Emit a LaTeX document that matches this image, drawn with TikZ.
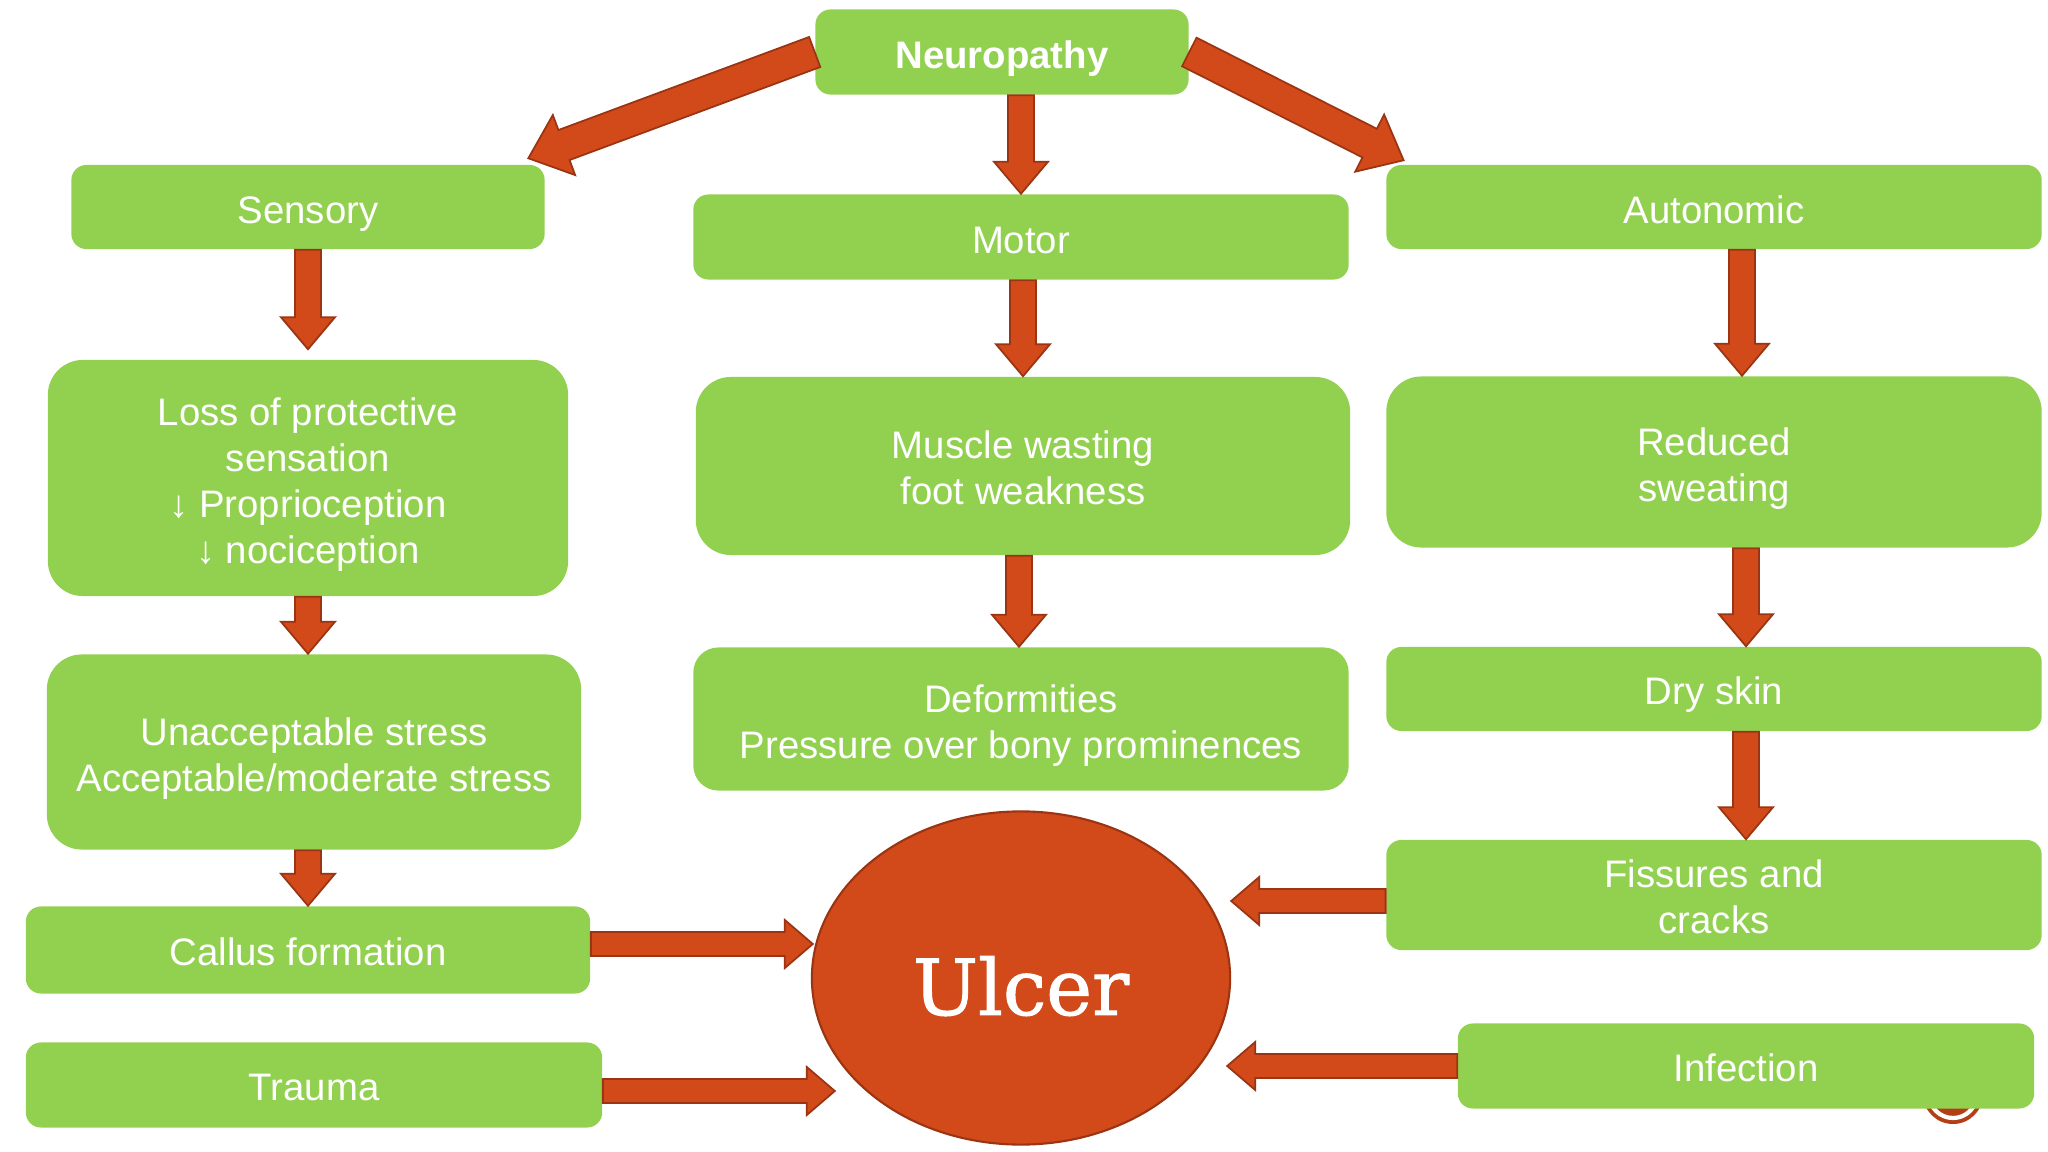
\documentclass[tikz,border=0pt]{standalone}
\usepackage{fontspec}
\setmainfont{Liberation Sans}
\newfontfamily\ulcerfont[FakeBold=1.3]{DejaVu Serif}
\usetikzlibrary{calc,shapes.geometric}
\definecolor{boxgreen}{HTML}{92D050}
\definecolor{arrred}{HTML}{D24A1A}
\definecolor{arredge}{HTML}{9A3412}
\tikzset{
  gbox/.style={fill=boxgreen, text=white, rounded corners=0.15cm, inner sep=0pt,
    align=center, font=\fontsize{10.9}{13.1}\selectfont},
  bigbox/.style={gbox, rounded corners=0.35cm},
  arrstyle/.style={fill=arrred, draw=arredge, line width=0.5pt, line join=miter},
}
% lowered text block: amount, lines
\newcommand\tl[2]{\raisebox{-#1}[\height][\depth]{\begin{tabular}{@{}c@{}}#2\end{tabular}}}
% block arrow: start, end, shaft half width, head half width, head length
\newcommand\blockarr[5]{%
  \coordinate (ba s) at #1;
  \coordinate (ba e) at #2;
  \coordinate (ba n) at ($(ba e)!#5!(ba s)$);
  \filldraw[arrstyle] ($(ba s)!#3!90:(ba e)$) -- ($(ba n)!#3!90:(ba e)$)
    -- ($(ba n)!#4!90:(ba e)$) -- (ba e) -- ($(ba n)!#4!-90:(ba e)$)
    -- ($(ba n)!#3!-90:(ba e)$) -- ($(ba s)!#3!-90:(ba e)$) -- cycle;}
\newcommand\varr[2]{\blockarr{#1}{#2}{0.13cm}{0.27cm}{0.32cm}}
\newcommand\harr[2]{\blockarr{#1}{#2}{0.12cm}{0.24cm}{0.28cm}}
\newcommand\darr[2]{\blockarr{#1}{#2}{0.16cm}{0.32cm}{0.38cm}}
\begin{document}
\begin{tikzpicture}[x=0.01cm, y=-0.01cm]
\fill[white] (0,0) rectangle (2048,1152);
\useasboundingbox (0,0) rectangle (2048,1152);

% decorative partial ring behind Infection
\fill[arrred!85!black] (1953,1094) circle (0.3cm);
\draw[white, line width=1.2pt] (1953,1094) circle (0.24cm);

% boxes
\node[gbox, minimum width=3.73cm, minimum height=0.85cm, font=\fontsize{10.9}{13.1}\selectfont\bfseries] (neuro) at (1002,52) {\tl{2.1pt}{Neuropathy}};
\node[gbox, minimum width=4.73cm, minimum height=0.84cm] (sensory) at (308,207) {\tl{2.1pt}{Sensory}};
\node[gbox, minimum width=6.55cm, minimum height=0.85cm] (motor) at (1021,237) {\tl{2.1pt}{Motor}};
\node[gbox, minimum width=6.55cm, minimum height=0.84cm] (autonomic) at (1714,207) {\tl{2.1pt}{Autonomic}};
\node[bigbox, minimum width=5.20cm, minimum height=2.36cm] (loss) at (308,478) {\tl{2.1pt}{Loss of protective\\ sensation\\ ↓ Proprioception\\ ↓ nociception}};
\node[bigbox, minimum width=6.54cm, minimum height=1.78cm] (muscle) at (1023,466) {\tl{1.9pt}{Muscle wasting\\ foot weakness}};
\node[bigbox, minimum width=6.55cm, minimum height=1.71cm] (reduced) at (1714,462) {\tl{2.1pt}{Reduced\\ sweating}};
\node[bigbox, minimum width=5.34cm, minimum height=1.95cm] (unacc) at (314,752) {\tl{2.1pt}{Unacceptable stress\\ Acceptable/moderate stress}};
\node[gbox, rounded corners=0.25cm, minimum width=6.55cm, minimum height=1.43cm] (deform) at (1021,719) {\tl{2.1pt}{Deformities\\ Pressure over bony prominences}};
\node[gbox, minimum width=6.55cm, minimum height=0.84cm] (dry) at (1714,689) {\tl{1.8pt}{Dry skin}};
\node[gbox, minimum width=6.55cm, minimum height=1.10cm] (fissures) at (1714,895) {\tl{1.9pt}{Fissures and\\ cracks}};
\node[gbox, minimum width=5.64cm, minimum height=0.87cm] (callus) at (308,950) {\tl{1.9pt}{Callus formation}};
\node[gbox, minimum width=5.76cm, minimum height=0.85cm] (trauma) at (314,1085) {\tl{1.9pt}{Trauma}};
\node[gbox, minimum width=5.76cm, minimum height=0.85cm] (infection) at (1746,1066) {\tl{1.9pt}{Infection}};

\node[ellipse, fill=arrred, draw=arredge, line width=0.6pt, minimum width=4.18cm, minimum height=3.33cm, inner sep=0pt, text=white] (ulcer) at (1021,978) {\raisebox{-2.3pt}[\height][\depth]{\ulcerfont\fontsize{22}{22}\selectfont Ulcer}};

% arrows from Neuropathy
\darr{(neuro.west)}{($(sensory.north east)+(-17,-6)$)}
\darr{(neuro.east)}{($(autonomic.north west)+(18,-4)$)}
\varr{(neuro.south -| motor.north)}{(motor.north)}

% vertical chains
\varr{(sensory.south)}{($(loss.north)+(0,-10)$)}
\varr{(loss.south)}{(loss.south |- unacc.north)}
\varr{(loss.south |- unacc.south)}{(callus.north)}
\varr{(motor.south -| muscle.north)}{(muscle.north)}
\varr{($(muscle.south)+(-4,0)$)}{($(muscle.south |- deform.north)+(-4,0)$)}
\varr{($(autonomic.south)+(28,0)$)}{($(reduced.north)+(28,0)$)}
\varr{($(reduced.south)+(32,0)$)}{($(dry.north)+(32,0)$)}
\varr{($(dry.south)+(32,0)$)}{($(fissures.north)+(32,0)$)}

% horizontal arrows to Ulcer
\harr{($(callus.east)+(0,-6)$)}{($(callus.east -| ulcer.west)+(2,-6)$)}
\harr{($(trauma.east)+(0,6)$)}{($(trauma.east -| ulcer.west)+(24,6)$)}
\harr{($(fissures.west)+(0,6)$)}{($(fissures.west -| ulcer.east)+(0,6)$)}
\harr{(infection.west)}{($(infection.west -| ulcer.east)+(-4,0)$)}
\end{tikzpicture}
\end{document}
